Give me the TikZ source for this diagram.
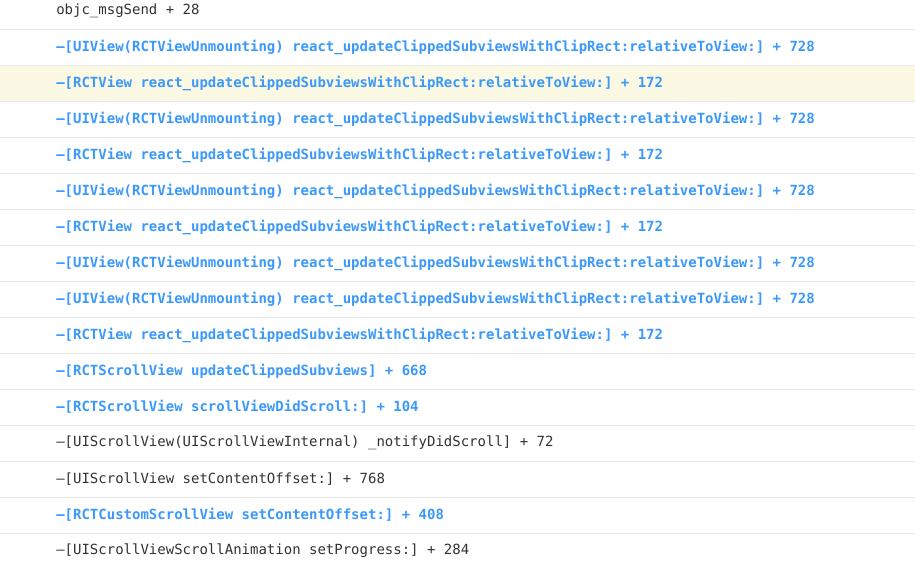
\documentclass[tikz,border=0pt]{standalone}
\usepackage{fontspec}
\setmonofont{DejaVu Sans Mono}
\definecolor{blu}{HTML}{3B99FC}
\definecolor{blk}{HTML}{333333}
\definecolor{hl}{HTML}{FBF8E3}
\definecolor{sep}{HTML}{EAEAEA}
\begin{document}
\begin{tikzpicture}[x=0.75pt,y=-0.75pt,
  rowtxt/.style={anchor=west,inner sep=0pt,font=\ttfamily\fontsize{10.5pt}{12pt}\selectfont},
  hot/.style={rowtxt,text=blu,font=\ttfamily\bfseries\fontsize{10.5pt}{12pt}\selectfont},
  cold/.style={rowtxt,text=blk}]
\fill[white] (0,0) rectangle (915,566);
\useasboundingbox (0,0) rectangle (915,566);
\fill[hl] (0,66) rectangle (915,102);
\foreach \i in {0,...,14} { \draw[sep,line width=0.75pt] (0,29.5+36*\i) -- (915,29.5+36*\i); }
\node[cold] (r1) at (56,11) {objc\_msgSend + 28};
\node[hot] (r2) at (56,47) {–[UIView(RCTViewUnmounting) react\_updateClippedSubviewsWithClipRect:relativeToView:] + 728};
\node[hot] (r3) at (56,83) {–[RCTView react\_updateClippedSubviewsWithClipRect:relativeToView:] + 172};
\node[hot] (r4) at (56,119) {–[UIView(RCTViewUnmounting) react\_updateClippedSubviewsWithClipRect:relativeToView:] + 728};
\node[hot] (r5) at (56,155) {–[RCTView react\_updateClippedSubviewsWithClipRect:relativeToView:] + 172};
\node[hot] (r6) at (56,191) {–[UIView(RCTViewUnmounting) react\_updateClippedSubviewsWithClipRect:relativeToView:] + 728};
\node[hot] (r7) at (56,227) {–[RCTView react\_updateClippedSubviewsWithClipRect:relativeToView:] + 172};
\node[hot] (r8) at (56,263) {–[UIView(RCTViewUnmounting) react\_updateClippedSubviewsWithClipRect:relativeToView:] + 728};
\node[hot] (r9) at (56,299) {–[UIView(RCTViewUnmounting) react\_updateClippedSubviewsWithClipRect:relativeToView:] + 728};
\node[hot] (r10) at (56,335) {–[RCTView react\_updateClippedSubviewsWithClipRect:relativeToView:] + 172};
\node[hot] (r11) at (56,371) {–[RCTScrollView updateClippedSubviews] + 668};
\node[hot] (r12) at (56,407) {–[RCTScrollView scrollViewDidScroll:] + 104};
\node[cold] (r13) at (56,443) {–[UIScrollView(UIScrollViewInternal) \_notifyDidScroll] + 72};
\node[cold] (r14) at (56,479) {–[UIScrollView setContentOffset:] + 768};
\node[hot] (r15) at (56,515) {–[RCTCustomScrollView setContentOffset:] + 408};
\node[cold] (r16) at (56,551) {–[UIScrollViewScrollAnimation setProgress:] + 284};
\end{tikzpicture}
\end{document}
